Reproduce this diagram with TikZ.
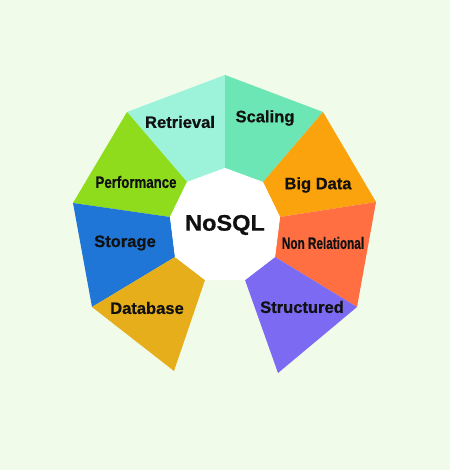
\documentclass[tikz,border=0pt]{standalone}
\usepackage{fontspec}
\setmainfont{Liberation Sans}[BoldFeatures={FakeBold=0.6}]
\definecolor{bgc}{HTML}{F1FBEA}
\definecolor{cRet}{HTML}{9DF3DA}
\definecolor{cSca}{HTML}{6BE6B4}
\definecolor{cBig}{HTML}{FBA30C}
\definecolor{cNon}{HTML}{FF6F42}
\definecolor{cStr}{HTML}{7C6AF2}
\definecolor{cDat}{HTML}{E5AE1A}
\definecolor{cSto}{HTML}{1F76D6}
\definecolor{cPer}{HTML}{8EDC1C}
\definecolor{txt}{HTML}{111111}
\tikzset{
  lbl/.style={text=txt, font=\bfseries\fontsize{16.6}{18}\selectfont, inner sep=0pt},
}
\begin{document}
\begin{tikzpicture}[x=1bp,y=-1bp]
\fill[bgc] (0,0) rectangle (450,470);
\useasboundingbox (0,0) rectangle (450,470);
% outer
\coordinate (O1) at (225,75);
\coordinate (O2) at (127,112);
\coordinate (O3) at (323,112);
\coordinate (O4) at (73,203);
\coordinate (O5) at (376,202);
\coordinate (O6) at (92,307);
\coordinate (O7) at (357,307);
\coordinate (O8) at (174,371);
\coordinate (O9) at (278,373);
% inner
\coordinate (I1) at (225,168);
\coordinate (I2) at (187,182);
\coordinate (I3) at (263,182);
\coordinate (I4) at (170,217);
\coordinate (I5) at (280,217);
\coordinate (I6) at (175,257);
\coordinate (I7) at (275,257);
\coordinate (I8) at (205,280);
\coordinate (I9) at (245,280);
\fill[cRet] (O1) -- (O2) -- (I2) -- (I1) -- cycle;
\fill[cSca] (O1) -- (O3) -- (I3) -- (I1) -- cycle;
\fill[cPer] (O2) -- (O4) -- (I4) -- (I2) -- cycle;
\fill[cBig] (O3) -- (O5) -- (I5) -- (I3) -- cycle;
\fill[cSto] (O4) -- (O6) -- (I6) -- (I4) -- cycle;
\fill[cNon] (O5) -- (O7) -- (I7) -- (I5) -- cycle;
\fill[cDat] (O6) -- (O8) -- (I8) -- (I6) -- cycle;
\fill[cStr] (O7) -- (O9) -- (I9) -- (I7) -- cycle;
\fill[white] (I1) -- (I3) -- (I5) -- (I7) -- (I9) -- (I8) -- (I6) -- (I4) -- (I2) -- cycle;
% labels
\node[lbl] (ret) at (180,122) {Retrieval};
\node[lbl] (sca) at (265,118) {Scaling};
\node[lbl, xscale=0.8] (per) at (136,182) {Performance};
\node[lbl] (big) at (318,185) {Big Data};
\node[lbl, font=\bfseries\fontsize{22.5}{24}\selectfont, xscale=1.05] (nos) at (225,225) {NoSQL};
\node[lbl] (sto) at (125,243) {Storage};
\node[lbl, xscale=0.71] (non) at (323,243) {Non Relational};
\node[lbl] (dat) at (147,308) {Database};
\node[lbl] (str) at (302,307) {Structured};
\end{tikzpicture}
\end{document}
